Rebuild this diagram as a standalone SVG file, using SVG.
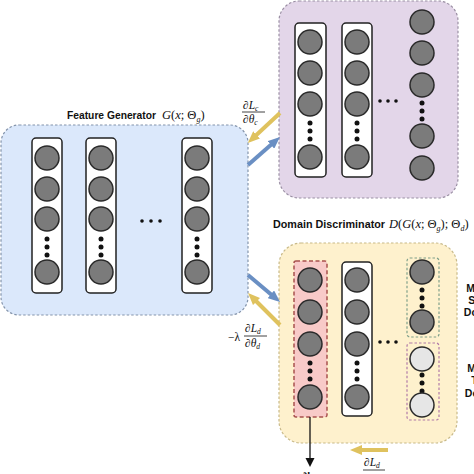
<svg xmlns="http://www.w3.org/2000/svg" width="474" height="474" viewBox="0 0 474 474">
<style>
.panel-g{fill:#dbe8fb;stroke:#8494ab;stroke-width:1.2;stroke-dasharray:2.5 2}
.panel-c{fill:#e3d6e9;stroke:#9a8fa3;stroke-width:1.2;stroke-dasharray:2.5 2}
.panel-d{fill:#fef1cd;stroke:#c8b988;stroke-width:1.2;stroke-dasharray:2.5 2}
.col{fill:#ffffff;stroke:#222;stroke-width:1.5}
.n{fill:#7b7b7b;stroke:#2a2a2a;stroke-width:1.5}
.nl{fill:#e6e6e6;stroke:#2a2a2a;stroke-width:1.5}
.dot{fill:#111}
.title{font-family:"Liberation Sans",Arial,sans-serif;font-weight:bold;font-size:10.5px;fill:#111}
.math{font-family:"Liberation Serif","DejaVu Serif",serif;font-size:12.5px;fill:#111}
.mathf{font-family:"Liberation Serif","DejaVu Serif",serif;font-size:11.5px;fill:#111}
.side{font-family:"Liberation Sans",Arial,sans-serif;font-weight:bold;font-size:10.5px;fill:#111}
.ab{stroke:#6a8fc3;stroke-width:4;fill:none}
.ay{stroke:#dfc25e;stroke-width:4;fill:none}
</style>
<defs>
<marker id="hb" viewBox="0 0 12 10" refX="5" refY="5" markerWidth="12" markerHeight="10" markerUnits="userSpaceOnUse" orient="auto"><path d="M0,0 L12,5 L0,10 z" fill="#6a8fc3"/></marker>
<marker id="hy" viewBox="0 0 12 10" refX="5" refY="5" markerWidth="12" markerHeight="10" markerUnits="userSpaceOnUse" orient="auto"><path d="M0,0 L12,5 L0,10 z" fill="#dfc25e"/></marker>
</defs>

<g id="generator">
<rect class="panel-g" x="1" y="125" width="247" height="190" rx="18"/>
<text class="title" x="67" y="119" textLength="89" lengthAdjust="spacingAndGlyphs">Feature Generator</text>
<text class="math" x="162" y="119"><tspan font-style="italic">G</tspan>(<tspan font-style="italic">x</tspan>; Θ<tspan font-size="8" font-style="italic" dy="3">g</tspan><tspan dy="-3">)</tspan></text>
<rect class="col" x="32" y="138" width="30" height="155" rx="4"/>
<circle class="n" cx="47" cy="158" r="12"/><circle class="n" cx="47" cy="189" r="12"/><circle class="n" cx="47" cy="219" r="12"/>
<circle class="dot" cx="47" cy="239" r="2.5"/><circle class="dot" cx="47" cy="247" r="2.5"/><circle class="dot" cx="47" cy="255" r="2.5"/>
<circle class="n" cx="47" cy="272" r="12"/>
<rect class="col" x="86" y="138" width="30" height="155" rx="4"/>
<circle class="n" cx="101" cy="158" r="12"/><circle class="n" cx="101" cy="189" r="12"/><circle class="n" cx="101" cy="219" r="12"/>
<circle class="dot" cx="101" cy="239" r="2.5"/><circle class="dot" cx="101" cy="247" r="2.5"/><circle class="dot" cx="101" cy="255" r="2.5"/>
<circle class="n" cx="101" cy="272" r="12"/>
<circle class="dot" cx="142" cy="221" r="1.8"/><circle class="dot" cx="151" cy="221" r="1.8"/><circle class="dot" cx="160" cy="221" r="1.8"/>
<rect class="col" x="182" y="138" width="30" height="155" rx="4"/>
<circle class="n" cx="197" cy="158" r="12"/><circle class="n" cx="197" cy="189" r="12"/><circle class="n" cx="197" cy="219" r="12"/>
<circle class="dot" cx="197" cy="239" r="2.5"/><circle class="dot" cx="197" cy="247" r="2.5"/><circle class="dot" cx="197" cy="255" r="2.5"/>
<circle class="n" cx="197" cy="272" r="12"/>
</g>

<g id="classifier">
<rect class="panel-c" x="279" y="1" width="179" height="197" rx="20"/>
<rect class="col" x="295" y="23" width="31" height="154" rx="4"/>
<circle class="n" cx="310" cy="42" r="12"/><circle class="n" cx="310" cy="73" r="12"/><circle class="n" cx="310" cy="104" r="12"/>
<circle class="dot" cx="310" cy="123" r="2.5"/><circle class="dot" cx="310" cy="131" r="2.5"/><circle class="dot" cx="310" cy="139" r="2.5"/>
<circle class="n" cx="310" cy="157" r="12"/>
<rect class="col" x="342" y="23" width="30" height="154" rx="4"/>
<circle class="n" cx="357" cy="42" r="12"/><circle class="n" cx="357" cy="73" r="12"/><circle class="n" cx="357" cy="104" r="12"/>
<circle class="dot" cx="357" cy="123" r="2.5"/><circle class="dot" cx="357" cy="131" r="2.5"/><circle class="dot" cx="357" cy="139" r="2.5"/>
<circle class="n" cx="357" cy="157" r="12"/>
<circle class="dot" cx="380" cy="101" r="1.8"/><circle class="dot" cx="388" cy="101" r="1.8"/><circle class="dot" cx="396" cy="101" r="1.8"/>
<circle class="n" cx="422" cy="22" r="12"/><circle class="n" cx="422" cy="53" r="12"/><circle class="n" cx="422" cy="85" r="12"/>
<circle class="dot" cx="422" cy="103" r="2.5"/><circle class="dot" cx="422" cy="111" r="2.5"/><circle class="dot" cx="422" cy="119" r="2.5"/>
<circle class="n" cx="422" cy="136" r="12"/><circle class="n" cx="422" cy="168" r="12"/>
</g>

<g id="discriminator">
<rect class="panel-d" x="279" y="243" width="178" height="200" rx="22"/>
<text class="title" x="273" y="228" textLength="112" lengthAdjust="spacingAndGlyphs">Domain Discriminator</text>
<text class="math" x="389" y="228"><tspan font-style="italic">D</tspan>(<tspan font-style="italic">G</tspan>(<tspan font-style="italic">x</tspan>; Θ<tspan font-size="8" font-style="italic" dy="3">g</tspan><tspan dy="-3">); Θ</tspan><tspan font-size="8" font-style="italic" dy="3">d</tspan><tspan dy="-3">)</tspan></text>
<rect x="294" y="261" width="33" height="156" rx="2" fill="#f8cac8" stroke="#a8524e" stroke-width="1.5" stroke-dasharray="4 2.5"/>
<circle class="n" cx="310" cy="280" r="12"/><circle class="n" cx="310" cy="312" r="12"/><circle class="n" cx="310" cy="344" r="12"/>
<circle class="dot" cx="310" cy="363" r="2.5"/><circle class="dot" cx="310" cy="371" r="2.5"/><circle class="dot" cx="310" cy="379" r="2.5"/>
<circle class="n" cx="310" cy="397" r="12"/>
<rect class="col" x="342" y="262" width="30" height="154" rx="4"/>
<circle class="n" cx="357" cy="280" r="12"/><circle class="n" cx="357" cy="312" r="12"/><circle class="n" cx="357" cy="344" r="12"/>
<circle class="dot" cx="357" cy="363" r="2.5"/><circle class="dot" cx="357" cy="371" r="2.5"/><circle class="dot" cx="357" cy="379" r="2.5"/>
<circle class="n" cx="357" cy="397" r="12"/>
<circle class="dot" cx="380" cy="342" r="1.8"/><circle class="dot" cx="388" cy="342" r="1.8"/><circle class="dot" cx="396" cy="342" r="1.8"/>
<rect x="407" y="258" width="32" height="79" rx="3" fill="none" stroke="#7fa08a" stroke-width="1.2" stroke-dasharray="2.5 2"/>
<circle class="n" cx="422" cy="272" r="12"/>
<circle class="dot" cx="422" cy="290" r="2.5"/><circle class="dot" cx="422" cy="298" r="2.5"/><circle class="dot" cx="422" cy="306" r="2.5"/>
<circle class="n" cx="422" cy="322" r="12"/>
<rect x="407" y="343" width="32" height="77" rx="3" fill="none" stroke="#b07aa8" stroke-width="1.2" stroke-dasharray="2.5 2"/>
<circle class="nl" cx="422" cy="359" r="12"/>
<circle class="dot" cx="422" cy="375" r="2.5"/><circle class="dot" cx="422" cy="383" r="2.5"/><circle class="dot" cx="422" cy="391" r="2.5"/>
<circle class="nl" cx="422" cy="405" r="12"/>
</g>

<g id="source-label">
<text class="side" text-anchor="middle" x="486" y="292">Multiple</text>
<text class="side" text-anchor="middle" x="486" y="304">Source</text>
<text class="side" text-anchor="middle" x="486" y="316">Domains</text>
</g>
<g id="target-label">
<text class="side" text-anchor="middle" x="487" y="372">Multiple</text>
<text class="side" text-anchor="middle" x="487" y="384">Target</text>
<text class="side" text-anchor="middle" x="487" y="397">Domains</text>
</g>

<g id="connectors">
<line class="ay" x1="280" y1="113" x2="252.9" y2="138.2" marker-end="url(#hy)"/>
<line class="ab" x1="248" y1="165" x2="274.7" y2="141.6" marker-end="url(#hb)"/>
<line class="ab" x1="248" y1="275" x2="274.7" y2="297.5" marker-end="url(#hb)"/>
<line class="ay" x1="280" y1="325" x2="253" y2="298" marker-end="url(#hy)"/>
<line class="ay" x1="388" y1="450" x2="357" y2="450" marker-end="url(#hy)"/>
<line x1="310" y1="417" x2="310" y2="460" stroke="#111" stroke-width="1.3"/>
<path d="M305.5,458 L310,467 L314.5,458 z" fill="#111"/>
</g>

<g id="labels">
<text class="mathf" x="243" y="109">∂<tspan font-style="italic">L</tspan><tspan font-size="7.5" font-style="italic" dy="2">c</tspan></text>
<line x1="242" y1="112" x2="265" y2="112" stroke="#111" stroke-width="0.8"/>
<text class="mathf" x="243" y="123">∂<tspan font-style="italic">θ</tspan><tspan font-size="7.5" font-style="italic" dy="2">c</tspan></text>
<text class="mathf" x="228" y="341" font-size="12.5px">−λ</text>
<text class="mathf" x="245" y="332">∂<tspan font-style="italic">L</tspan><tspan font-size="7.5" font-style="italic" dy="2">d</tspan></text>
<line x1="244" y1="336" x2="267" y2="336" stroke="#111" stroke-width="0.8"/>
<text class="mathf" x="245" y="347">∂<tspan font-style="italic">θ</tspan><tspan font-size="7.5" font-style="italic" dy="2">d</tspan></text>
<text class="mathf" x="364" y="466">∂<tspan font-style="italic">L</tspan><tspan font-size="7.5" font-style="italic" dy="2">d</tspan></text>
<line x1="363" y1="470" x2="385" y2="470" stroke="#111" stroke-width="0.8"/>
<text class="side" x="302" y="480" font-size="13px">∂L</text>
</g>
</svg>
